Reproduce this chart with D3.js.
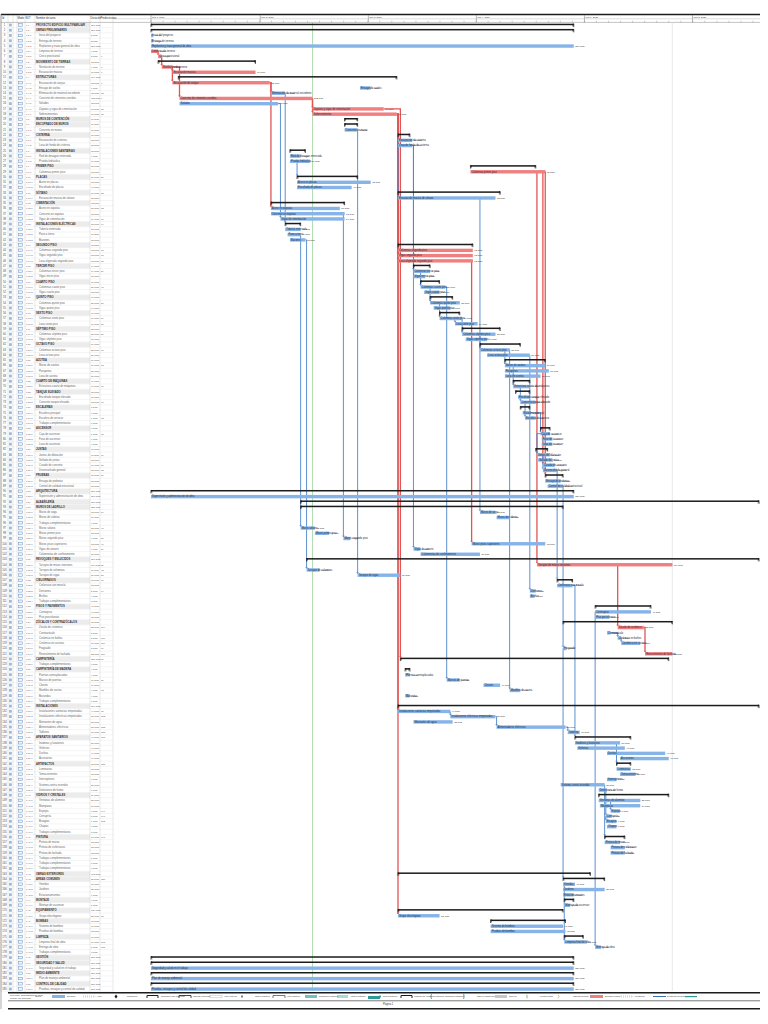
<!DOCTYPE html>
<html><head><meta charset="utf-8">
<script src="https://cdn.jsdelivr.net/npm/d3@7"></script>
<style>body{margin:0;background:#fff}svg{display:block}text{font-family:"Liberation Sans",Arial,sans-serif}</style>
</head><body><svg id="c" width="768" height="1024"></svg>
<script>
// ---------------- DATA ----------------
const taskNames = ["PROYECTO EDIFICIO MULTIFAMILIAR","OBRAS PRELIMINARES","Inicio del proyecto","Entrega de terreno","Replanteo y trazo general de obra","Limpieza de terreno","Cerco provisional","MOVIMIENTO DE TIERRAS","Nivelación de terreno","Excavación masiva","ESTRUCTURAS","Excavación de zanjas","Ensayo de suelos","Eliminación de material excedente","Concreto de cimientos corridos","Solados","Zapatas y vigas de cimentación","Sobrecimientos","MUROS DE CONTENCIÓN","ENCOFRADO DE MUROS","Concreto en muros","CISTERNA","Excavación de cisterna","Losa de fondo de cisterna","INSTALACIONES SANITARIAS","Red de desagüe enterrada","Prueba hidráulica","PRIMER PISO","Columnas primer piso","PLACAS","Acero en placas","Encofrado de placas","SÓTANO","Excavación masiva de sótano","CIMENTACIÓN","Acero en zapatas","Concreto en zapatas","Vigas de cimentación","INSTALACIONES ELÉCTRICAS","Tubería enterrada","Pozo a tierra","Buzones","SEGUNDO PISO","Columnas segundo piso","Vigas segundo piso","Losa aligerada segundo piso","TERCER PISO","Columnas tercer piso","Vigas tercer piso","CUARTO PISO","Columnas cuarto piso","Vigas cuarto piso","QUINTO PISO","Columnas quinto piso","Vigas quinto piso","SEXTO PISO","Columnas sexto piso","Losa sexto piso","SÉPTIMO PISO","Columnas séptimo piso","Vigas séptimo piso","OCTAVO PISO","Columnas octavo piso","Losa octavo piso","AZOTEA","Muros de azotea","Parapetos","Losa de azotea","CUARTO DE MÁQUINAS","Estructura cuarto de máquinas","TANQUE ELEVADO","Encofrado tanque elevado","Concreto tanque elevado","ESCALERAS","Escalera principal","Escalera de servicio","Trabajos complementarios","ASCENSOR","Caja de ascensor","Foso de ascensor","Losa de ascensor","JUNTAS","Juntas de dilatación","Sellado de juntas","Curado de concreto","Desencofrado general","PRUEBAS","Ensayo de probetas","Control de calidad estructural","ARQUITECTURA","Supervisión y administración de obra","ALBAÑILERÍA","MUROS DE LADRILLO","Muros de soga","Muros de cabeza","Trabajos complementarios","Muros sótano","Muros primer piso","Muros segundo piso","Muros pisos superiores","Vigas de amarre","Columnetas de confinamiento","REVOQUES Y ENLUCIDOS","Tarrajeo de muros interiores","Tarrajeo de columnas","Tarrajeo de vigas","CIELORRASOS","Cielorraso con mezcla","Derrames","Bruñas","Trabajos complementarios","PISOS Y PAVIMENTOS","Contrapiso","Piso porcelanato","ZÓCALOS Y CONTRAZÓCALOS","Zócalo de cerámico","Contrazócalo","Cerámico en baños","Cerámico en cocinas","Fraguado","Revestimiento de fachada","CARPINTERÍA","Trabajos complementarios","CARPINTERÍA DE MADERA","Puertas contraplacadas","Marcos de puertas","Closets","Muebles de cocina","Barandas","Trabajos complementarios","INSTALACIONES","Instalaciones sanitarias empotradas","Instalaciones eléctricas empotradas","Montantes de agua","Alimentadores eléctricos","Tableros","APARATOS SANITARIOS","Inodoros y lavatorios","Griferías","Duchas","Accesorios","ARTEFACTOS","Luminarias","Tomacorrientes","Interruptores","Sistema contra incendio","Detectores de humo","VIDRIOS Y CRISTALES","Ventanas de aluminio","Mamparas","Espejos","Cerrajería","Bisagras","Chapas","Trabajos complementarios","PINTURA","Pintura de muros","Pintura de cielorrasos","Pintura de fachada","Trabajos complementarios","Trabajos complementarios","Trabajos complementarios","OBRAS EXTERIORES","ÁREAS COMUNES","Veredas","Jardines","Estacionamientos","MONTAJE","Montaje de ascensor","EQUIPAMIENTO","Grupo electrógeno","BOMBAS","Sistema de bombeo","Pruebas de bombas","LIMPIEZA","Limpieza final de obra","Entrega de obra","Trabajos complementarios","GESTIÓN","SEGURIDAD Y SALUD","Seguridad y salud en el trabajo","MEDIO AMBIENTE","Plan de manejo ambiental","CONTROL DE CALIDAD","Pruebas, ensayos y control de calidad"];

// kind: S = resumen, T = tarea, C = tarea crítica, "" = sin barra
const taskKind = ["S","S","T","T","T","C","C","S","C","C","S","C","T","T","C","T","C","C","S","S","T","S","T","T","S","T","T","S","C","S","T","T","S","T","S","T","T","T","S","T","T","T","S","C","C","C","S","T","T","S","T","T","S","T","T","S","T","T","S","T","T","S","T","T","S","T","T","T","S","T","S","T","T","S","T","T","","S","T","T","T","S","T","T","T","T","S","T","T","S","T","S","S","T","T","","T","T","T","T","T","T","S","C","T","T","S","T","T","T","","S","T","T","S","C","T","T","T","T","C","S","","S","T","T","T","T","T","","S","T","T","T","T","T","S","T","T","T","T","S","T","T","T","T","T","S","T","T","T","T","T","T","","S","T","T","T","","","","S","S","T","T","T","S","T","S","T","S","T","T","S","T","T","","S","S","T","S","T","S","T"];

// start / end in días desde el inicio del proyecto
const taskStart = [0,0,0,0,0,0,6,6,9,18,23,18,176,101,24,24,136,136,163,163,163,208,208,208,117,117,117,269,269,123,123,123,208,208,101,101,101,109,113,113,115,117,208,208,208,208,221,221,221,227,227,230,235,235,238,243,243,256,262,262,265,277,277,283,298,298,298,298,305,305,307,309,311,311,313,315,0,328,328,329,329,324,325,326,330,330,332,332,334,0,0,126,126,277,291,0,126,138,162,270,221,227,131,325,131,174,342,342,319,319,0,374,374,374,347,393,384,393,396,347,416,210,0,214,214,249,280,302,214,0,208,208,252,221,291,351,357,357,359,384,395,392,392,395,384,345,377,377,377,378,387,383,383,384,0,382,382,387,387,0,0,0,208,347,347,347,347,348,348,208,208,286,286,286,348,348,374,0,0,0,0,0,0,0,0];
const taskEnd = [356,356,2,2,356,6,9,88,18,88,207,100,185,113,136,107,196,207,174,174,174,218,220,220,130,126,134,324,332,174,185,169,294,290,163,159,163,163,126,126,126,130,271,271,271,271,235,235,231,243,248,243,254,260,252,260,262,275,294,290,283,311,302,319,332,332,335,328,319,319,319,319,324,319,320,324,0,336,336,338,338,334,336,338,340,342,347,345,347,356,356,512,347,290,302,0,138,150,168,332,227,277,512,439,142,210,355,355,324,323,0,421,421,386,439,415,387,396,412,350,439,436,0,218,218,260,294,311,218,0,512,252,290,254,349,361,404,395,399,433,436,404,404,408,392,382,384,436,412,412,395,388,392,392,0,399,395,399,399,0,0,0,370,382,357,382,356,356,353,347,243,349,347,349,364,367,379,0,356,356,356,356,356,356,356];

// dependencias [predecesora, sucesora, crítica]
const links = [[5,6,1],[6,8,1],[8,9,1],[8,11,1],[8,14,1],[11,13,1],[11,35,1],[14,16,1],[14,17,1],[17,43,1],[17,44,1],[17,45,1],[17,131,1],[17,170,1],[16,121,1],[45,99,1],[28,103,1],[28,84,1],[28,86,1],[103,115,1],[115,120,1],
 [13,38,0],[15,37,0],[20,105,0],[23,47,0],[23,100,0],[36,98,0],[40,96,0],[41,104,0],[47,50,0],[50,53,0],[50,125,0],[53,56,0],[56,57,0],[56,59,0],[59,62,0],[62,65,0],[62,127,0],[63,108,0],[65,69,0],[69,72,0],[72,75,0],[74,78,0],[78,82,0],[82,85,0],[85,106,0],[88,119,0],[119,163,0],[107,136,0],[134,135,0],[131,132,0],[132,134,0],[112,176,0],[116,117,0],[117,118,0],[137,141,0],[145,155,0],[146,151,0],[148,150,0],[151,152,0],[164,175,0],[33,93,0],[26,29,0],[22,32,0]];

const majorTickDays = [0,92,183,274,365,456];
const majorTickLabels = ["trim 1, 2024","trim 2, 2024","trim 3, 2024","trim 4, 2024","trim 1, 2025","trim 2, 2025"];
const statusDay = 136;
const finishDay = 439;
const tableHeaders = ["Id","","Modo","EDT","Nombre de tarea","Duración","Predecesoras"];
const legendLabels = ["Tarea","División","Hito","Resumen","Resumen del proyecto","Tareas externas","Hito externo","Tarea inactiva","Hito inactivo","Resumen inactivo","Tarea manual","solo duración","Informe de resumen manual","Resumen manual","solo el comienzo","solo fin","Fecha límite","Tareas críticas","División crítica","Progreso"];

// ---------------- DRAW ----------------
const svg = d3.select("#c");
const N = taskNames.length;
const x = d3.scaleLinear().domain([0,512]).range([151,759]);
const y = d3.scaleLinear().domain([0,N-1]).range([25,989]);
const rh = (y(1)-y(0));
const BLUE="#86b4e8", BLUE_L="#4a86cc", RED="#f07f7f", RED_L="#e25555", DARK="#1c1c1c";

const cols=[1,8,13,17,25,35,90,100,113];

const tg = svg.append("g");
for(let i=0;i<N;i++){
  const top=y(i)-rh/2;
  if(taskKind[i]==="S") tg.append("rect").attr("x",35).attr("y",top+0.3).attr("width",55).attr("height",rh-0.6).attr("fill","#ececec");
  tg.append("line").attr("x1",1).attr("x2",113).attr("y1",top+rh).attr("y2",top+rh).attr("stroke","#d8d8d8").attr("stroke-width",0.3);
}
cols.forEach(c=>tg.append("line").attr("x1",c).attr("x2",c).attr("y1",14).attr("y2",y(N-1)+rh/2).attr("stroke","#c4c4c4").attr("stroke-width",0.4));

const preds = taskNames.map(()=>[]);
links.forEach(l=>preds[l[1]].push(l[0]+1));

let lvl1=0,lvl2=0;
const wbs = taskNames.map((n,i)=>{ if(taskKind[i]==="S"){lvl1++;lvl2=0;return "1."+lvl1;} lvl2++; return "1."+lvl1+"."+lvl2; });

const fs=2.7;
for(let i=0;i<N;i++){
  const yc=y(i)+0.9;
  const S=taskKind[i]==="S";
  tg.append("text").attr("x",4.5).attr("y",yc).attr("font-size",fs).attr("text-anchor","middle").attr("fill","#444").text(i+1);
  tg.append("rect").attr("x",9).attr("y",y(i)-1.4).attr("width",2.8).attr("height",2.8).attr("fill","#5d8cc2").attr("opacity",0.6);
  tg.append("rect").attr("x",18.5).attr("y",y(i)-1.3).attr("width",4).attr("height",2.6).attr("fill","#eef4fb").attr("stroke","#5a86bb").attr("stroke-width",0.45);
  tg.append("text").attr("x",26).attr("y",yc).attr("font-size",fs-0.3).attr("fill","#666").text(wbs[i]);
  tg.append("text").attr("x",S?36:39).attr("y",yc).attr("font-size",fs).attr("font-weight",S?"bold":"normal").attr("fill",S?"#333":"#666").text(taskNames[i]);
  const dur = taskKind[i]===""?"0 días":(taskEnd[i]-taskStart[i])+" días";
  tg.append("text").attr("x",91).attr("y",yc).attr("font-size",fs-0.3).attr("fill","#555").text(dur);
  if(preds[i].length) tg.append("text").attr("x",101).attr("y",yc).attr("font-size",fs-0.3).attr("fill","#555").text(preds[i].join(";"));
}

// header
const hg=svg.append("g");
hg.append("line").attr("x1",1).attr("x2",760).attr("y1",14.5).attr("y2",14.5).attr("stroke",DARK).attr("stroke-width",1.6);
hg.append("line").attr("x1",1).attr("x2",760).attr("y1",22.4).attr("y2",22.4).attr("stroke","#888").attr("stroke-width",0.5);
hg.append("line").attr("x1",113).attr("x2",760).attr("y1",18.8).attr("y2",18.8).attr("stroke","#aaa").attr("stroke-width",0.4);
const hx=[2,8.5,17.5,25.5,36,90.5,100.5];
tableHeaders.forEach((t,k)=>hg.append("text").attr("x",hx[k]).attr("y",18.5).attr("font-size",2.6).attr("fill","#333").text(t));
majorTickDays.forEach((d,k)=>{
  hg.append("line").attr("x1",x(d)).attr("x2",x(d)).attr("y1",15).attr("y2",22.4).attr("stroke","#777").attr("stroke-width",0.5);
  hg.append("text").attr("x",x(d)+1).attr("y",18).attr("font-size",2.4).attr("fill","#444").text(majorTickLabels[k]);
});
const minorTicks=d3.range(0,512,91.25/9);
minorTicks.forEach(d=>hg.append("line").attr("x1",x(d)).attr("x2",x(d)).attr("y1",20.6).attr("y2",22.4).attr("stroke","#888").attr("stroke-width",0.4));

svg.append("line").attr("x1",x(statusDay)).attr("x2",x(statusDay)).attr("y1",22.4).attr("y2",991).attr("stroke","#9fd39f").attr("stroke-width",0.8);
svg.append("line").attr("x1",x(finishDay)).attr("x2",x(finishDay)).attr("y1",22.4).attr("y2",991).attr("stroke","#e3e3e3").attr("stroke-width",0.8);

// links
const lg=svg.append("g").attr("fill","none");
links.forEach(([a,b,c])=>{
  const xa=x(taskEnd[a]), ya=y(a), xb=x(taskStart[b]), yb=y(b)-1.6;
  lg.append("path").attr("d",`M${xa},${ya}H${xb}V${yb}`).attr("stroke",c?RED_L:BLUE_L).attr("stroke-width",c?1.3:0.9);
  lg.append("path").attr("d",`M${xb-1},${yb-1.3}L${xb},${yb}L${xb+1},${yb-1.3}`).attr("stroke",c?RED_L:BLUE_L).attr("stroke-width",0.6);
});

// bars
const bg=svg.append("g");
for(let i=0;i<N;i++){
  const k=taskKind[i]; if(!k) continue;
  const x1=x(taskStart[i]), x2=x(taskEnd[i]), yc=y(i);
  if(k==="S"){
    bg.append("rect").attr("x",x1).attr("y",yc-1.3).attr("width",Math.max(0.5,x2-x1)).attr("height",1.5).attr("fill",DARK);
    bg.append("path").attr("d",`M${x1},${yc-1.3}h1.2v3.4z`).attr("fill",DARK);
    bg.append("path").attr("d",`M${x2},${yc-1.3}h-1.2v3.4z`).attr("fill",DARK);
    bg.append("path").attr("d",`M${x1},${yc-1.3}v3.4`).attr("stroke",DARK).attr("stroke-width",0.8);
    bg.append("path").attr("d",`M${x2},${yc-1.3}v3.4`).attr("stroke",DARK).attr("stroke-width",0.8);
  } else {
    bg.append("rect").attr("x",x1).attr("y",yc-1.6).attr("width",Math.max(1,x2-x1)).attr("height",3.4).attr("fill",k==="C"?RED:BLUE);
    bg.append("text").attr("x",x1+1).attr("y",yc+0.9).attr("font-size",2.6).attr("fill","#1d2b3a").text(taskNames[i]);
    bg.append("text").attr("x",x2+1.5).attr("y",yc+0.9).attr("font-size",2.4).attr("fill","#333").text((taskEnd[i]-taskStart[i])+" días");
  }
}

svg.append("line").attr("x1",1).attr("x2",1).attr("y1",14).attr("y2",1009).attr("stroke","#555").attr("stroke-width",0.5);

// legend / footer
const fg=svg.append("g");
fg.append("line").attr("x1",8).attr("x2",760).attr("y1",992.8).attr("y2",992.8).attr("stroke",DARK).attr("stroke-width",1.6);
fg.append("line").attr("x1",8).attr("x2",760).attr("y1",1000.8).attr("y2",1000.8).attr("stroke",DARK).attr("stroke-width",0.6);
fg.append("line").attr("x1",8).attr("x2",760).attr("y1",1008.8).attr("y2",1008.8).attr("stroke",DARK).attr("stroke-width",1.6);
fg.append("text").attr("x",10).attr("y",995.5).attr("font-size",2.4).attr("fill","#333").text("Proyecto: Cronograma de obra");
fg.append("text").attr("x",10).attr("y",998.5).attr("font-size",2.4).attr("fill","#333").text("Fecha: lun 15/01/24");
fg.append("text").attr("x",383).attr("y",1004.5).attr("font-size",2.6).attr("fill","#333").text("Página 1");
const legX=[35,67,97,127,161,193,224,255,287,319,351,383,414,445,477,509,540,573,605,635];
const ly=996.5;
const sw=[
  g=>g.append("rect").attr("x",52).attr("y",ly-1.5).attr("width",13).attr("height",3).attr("fill",BLUE),
  g=>g.append("rect").attr("x",83).attr("y",ly-0.5).attr("width",12).attr("height",1).attr("fill","none").attr("stroke",BLUE).attr("stroke-dasharray","1,1").attr("stroke-width",0.6),
  g=>g.append("path").attr("d",`M116,${ly-2}l1.5,2l-1.5,2l-1.5,-2z`).attr("fill",DARK),
  g=>g.append("path").attr("d",`M147,${ly+1.5}v-2.5h11v2.5`).attr("fill","none").attr("stroke",DARK).attr("stroke-width",1),
  g=>g.append("path").attr("d",`M179,${ly+1.5}v-2.5h12v2.5`).attr("fill","none").attr("stroke","#444").attr("stroke-width",1),
  g=>g.append("rect").attr("x",210).attr("y",ly-1.3).attr("width",12).attr("height",2.6).attr("fill","none").attr("stroke","#bbb").attr("stroke-width",0.5),
  g=>g.append("path").attr("d",`M242,${ly-1.6}l1.2,1.6l-1.2,1.6l-1.2,-1.6z`).attr("fill","#777"),
  g=>g.append("path").attr("d",`M273,${ly+1.5}v-2.5h12v2.5`).attr("fill","none").attr("stroke","#555").attr("stroke-width",0.8),
  g=>g.append("rect").attr("x",305).attr("y",ly-1.5).attr("width",12).attr("height",3).attr("fill","#6ec3c3"),
  g=>g.append("rect").attr("x",337).attr("y",ly-1.5).attr("width",11).attr("height",3).attr("fill","#a6dcdc"),
  g=>g.append("rect").attr("x",368).attr("y",ly-0.5).attr("width",12).attr("height",3).attr("fill","#2e9a9a"),
  g=>g.append("path").attr("d",`M380,${ly-1.6}l1.2,1.6l-1.2,1.6l-1.2,-1.6z`).attr("fill","#2e9a9a"),
  g=>g.append("path").attr("d",`M401,${ly+1.5}v-2.5h11v2.5`).attr("fill","none").attr("stroke",DARK).attr("stroke-width",1),
  g=>g.append("path").attr("d",`M432,${ly-1.8}h-1v3.6h1`).attr("fill","none").attr("stroke","#2e9a9a").attr("stroke-width",0.8),
  g=>g.append("path").attr("d",`M463,${ly-1.8}h1v3.6h-1`).attr("fill","none").attr("stroke","#2e9a9a").attr("stroke-width",0.8),
  g=>g.append("rect").attr("x",495).attr("y",ly-1.5).attr("width",12).attr("height",3).attr("fill","#c8c8c8"),
  g=>g.append("path").attr("d",`M527,${ly-1.8}v3.6`).attr("stroke","#2e9a2e").attr("stroke-width",0.6),
  g=>g.append("path").attr("d",`M558,${ly-1.8}l1,1.8l-1,1.8`).attr("fill","none").attr("stroke","#d4b000").attr("stroke-width",0.6),
  g=>g.append("rect").attr("x",590).attr("y",ly-1.5).attr("width",13).attr("height",3).attr("fill",RED),
  g=>g.append("rect").attr("x",621).attr("y",ly-0.5).attr("width",12).attr("height",1).attr("fill","none").attr("stroke",RED).attr("stroke-dasharray","1,1").attr("stroke-width",0.5)
];
sw.forEach(f=>f(fg));
fg.append("rect").attr("x",653).attr("y",ly-0.5).attr("width",13).attr("height",1).attr("fill","#3d6fb0");
fg.append("rect").attr("x",685).attr("y",ly-0.5).attr("width",12).attr("height",1.2).attr("fill","#2e9a9a");
fg.append("text").attr("x",667).attr("y",ly+0.9).attr("font-size",2.4).attr("fill","#333").text("Progreso manual");
legendLabels.forEach((t,k)=>fg.append("text").attr("x",legX[k]).attr("y",ly+0.9).attr("font-size",2.4).attr("fill","#333").text(t));
</script></body></html>
